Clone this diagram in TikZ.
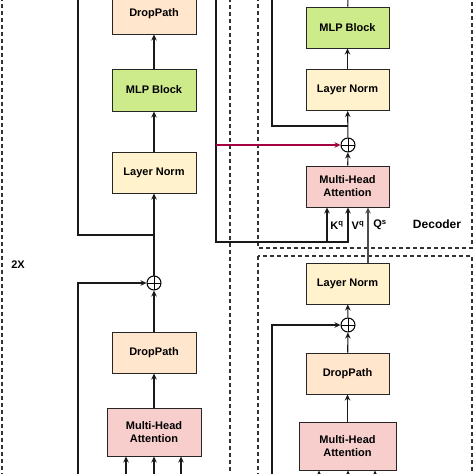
\documentclass[tikz,border=0pt]{standalone}
\usepackage{fontspec}
\setmainfont{Liberation Sans}
\usetikzlibrary{arrows.meta}
\definecolor{dpfill}{HTML}{FFE6CC}
\definecolor{mlpfill}{HTML}{CDEB8B}
\definecolor{lnfill}{HTML}{FFF2CC}
\definecolor{mhafill}{HTML}{F8CECC}
\definecolor{crossred}{HTML}{A50040}
\definecolor{qgray}{HTML}{4D4D4D}
\tikzset{
  blk/.style={draw=black!85, line width=1pt, inner sep=0pt, align=center,
    minimum width=83pt, minimum height=41pt,
    font=\bfseries\fontsize{11}{13}\selectfont},
  dpbox/.style={blk, fill=dpfill},
  mlpbox/.style={blk, fill=mlpfill},
  lnbox/.style={blk, fill=lnfill},
  mhabox/.style={blk, fill=mhafill},
  addop/.style={circle, draw=black, line width=1pt, minimum size=14pt, inner sep=0pt,
    path picture={\draw[line width=1pt] (path picture bounding box.north) -- (path picture bounding box.south)
      (path picture bounding box.west) -- (path picture bounding box.east);}},
  link/.style={line width=1.1pt, draw=black!90},
  arr/.style={link, -{Stealth[length=6pt,width=5.5pt]}},
  dashbox/.style={line width=1.2pt, draw=black!80, dash pattern=on 4pt off 3pt},
  lbl/.style={font=\bfseries\fontsize{11}{13}\selectfont},
}
\begin{document}
\begin{tikzpicture}[x=1pt,y=-1pt]
\useasboundingbox (0,0) rectangle (474,474);
\clip (0,0) rectangle (474,474);
% dashed frames
\draw[dashbox] (2,-10) rectangle (230,484);
\draw[dashbox] (258,-10) rectangle (472,248);
\draw[dashbox] (258,256) rectangle (472,484);
\node[lbl] (rep) at (18,265) {2X};
\node[lbl,font=\bfseries\fontsize{12}{14}\selectfont] (dec) at (437,224) {Decoder};
% left column
\node[dpbox, minimum width=84pt] (dpA) at (154,13.5) {DropPath};
\node[mlpbox, minimum width=84pt, minimum height=42pt] (mlpA) at (154,90) {MLP Block};
\node[lnbox, minimum width=84pt] (lnA) at (154,172.5) {Layer Norm};
\node[addop] (addA) at (154,283) {};
\node[dpbox, minimum width=84pt] (dpB) at (154,352.5) {DropPath};
\node[mhabox, minimum width=94pt, minimum height=48pt] (mhaA) at (154,432) {Multi-Head\\Attention};
\draw[arr] (lnA) -- (mlpA);
\draw[arr] (mlpA) -- (dpA);
\draw[arr] (mhaA) -- (dpB);
\draw[arr] (dpB) -- (addA);
\draw[arr] (addA) -- (lnA);
\coordinate (splitA) at (154,235);
\coordinate (topA) at (78,-10);
\coordinate (botA) at (78,484);
\draw[link] (splitA) -| (topA);
\draw[arr] (botA) |- (addA);
\foreach \x [count=\i] in {126,154,181} {
  \coordinate (inA\i) at (\x,484);
  \draw[arr] (inA\i) -- (inA\i |- mhaA.south);
}
% encoder output to decoder
\coordinate (encOut) at (216,-10);
\coordinate (kq) at (327,242);
\coordinate (vq) at (348,242);
\coordinate (redS) at (216,145);
% decoder (upper)
\node[mlpbox] (mlpB) at (347.5,27.5) {MLP Block};
\node[lnbox] (lnB) at (347.5,90) {Layer Norm};
\node[addop] (addB) at (348,145) {};
\node[mhabox] (mhaB) at (347.5,186.5) {Multi-Head\\Attention};
\coordinate (topB) at (348,-10);
\coordinate (skipB) at (272,-10);
\coordinate (joinB) at (348,126);
\draw[link] (mlpB) -- (topB);
\draw[arr] (lnB) -- (mlpB);
\draw[arr] (addB) -- (lnB);
\draw[arr] (mhaB) -- (addB);
\draw[link] (joinB) -| (skipB);
\draw[arr] (encOut) |- (vq) -- (vq |- mhaB.south);
\draw[arr] (kq) -- (kq |- mhaB.south);
\draw[arr, draw=crossred] (redS) -- (addB);
\node[lbl] (kqlbl) at (337,225) {K\textsuperscript{q}};
\node[lbl] (vqlbl) at (358,225) {V\textsuperscript{q}};
\node[lbl] (qslbl) at (380,225) {Q\textsuperscript{s}};
% lower block
\node[lnbox] (lnC) at (347.5,283.5) {Layer Norm};
\node[addop] (addC) at (348,325) {};
\node[dpbox] (dpC) at (347.5,373.5) {DropPath};
\node[mhabox, minimum width=97pt, minimum height=48pt] (mhaC) at (347.5,446) {Multi-Head\\Attention};
\coordinate (qs) at (368,240);
\draw[arr, draw=qgray] (qs |- lnC.north) -- (qs |- mhaB.south);
\draw[arr] (addC) -- (lnC);
\draw[arr] (dpC) -- (addC);
\draw[arr] (mhaC) -- (dpC);
\coordinate (botC) at (272,484);
\draw[arr] (botC) |- (addC);
\foreach \x [count=\i] in {319,348,375} {
  \coordinate (inC\i) at (\x,484);
  \draw[arr] (inC\i) -- (inC\i |- mhaC.south);
}
\end{tikzpicture}
\end{document}
